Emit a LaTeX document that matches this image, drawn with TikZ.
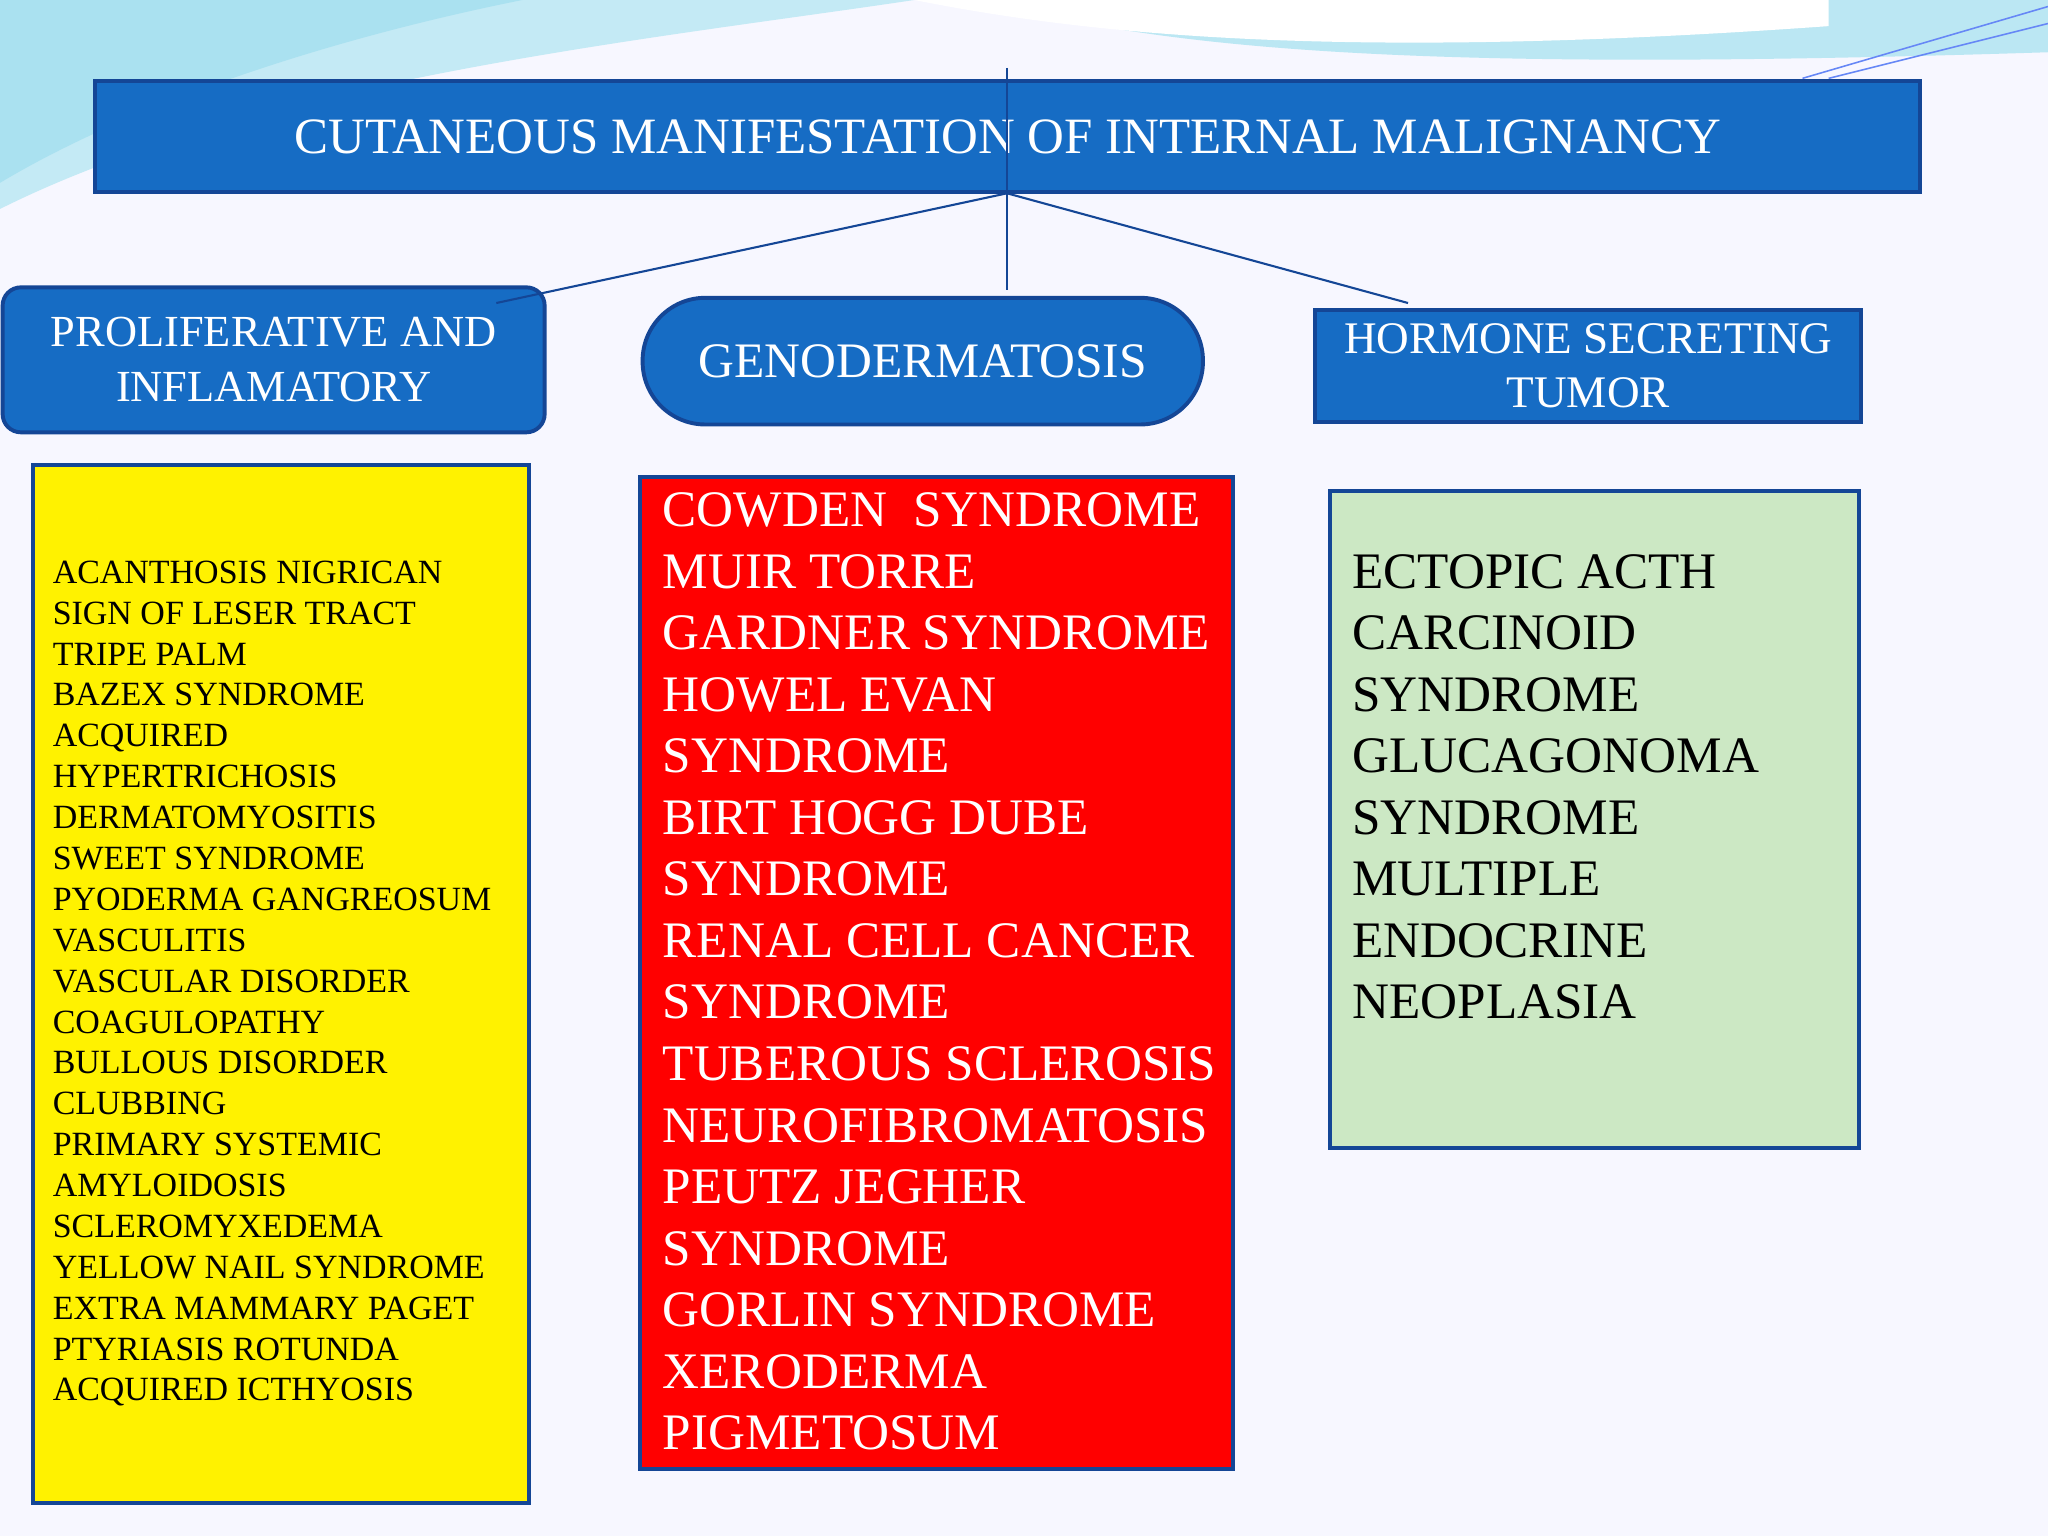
\documentclass[tikz,border=0pt]{standalone}
\usepackage{fontspec}
\setmainfont{Liberation Serif}
\definecolor{bblue}{RGB}{22,108,196}
\definecolor{bedge}{RGB}{20,70,150}
\definecolor{ggreen}{RGB}{204,232,196}
\definecolor{lcyan}{RGB}{170,225,240}
\begin{document}
\begin{tikzpicture}[x=0.5pt,y=-0.5pt,
  hdr/.style={fill=bblue,draw=bedge,line width=1.5pt,text=white,align=center,inner sep=0},
  lst/.style={anchor=north west,align=left,inner sep=0},
  con/.style={draw=bedge,line width=0.8pt}]
\useasboundingbox (0,0) rectangle (1568,1176);
\fill[white!97!blue] (0,0) rectangle (1568,1176);
% decorative top waves
\fill[lcyan!70] (0,0) -- (700,0) .. controls (500,30) and (200,60) .. (0,160) -- cycle;
\fill[lcyan] (0,0) -- (400,0) .. controls (250,30) and (100,80) .. (0,140) -- cycle;
\fill[lcyan!80] (750,0) .. controls (900,40) and (1100,55) .. (1568,40) -- (1568,0) -- cycle;
\fill[white] (700,0) .. controls (850,30) and (1050,45) .. (1400,20) -- (1400,0) -- cycle;
\draw[lcyan!60!blue,line width=0.6pt] (1380,60) -- (1568,5);
\draw[lcyan!60!blue,line width=0.6pt] (1400,60) -- (1568,18);
% title
\node[hdr,minimum width=698.5pt,minimum height=42.5pt,font=\fontsize{19.5}{23}\selectfont] (title) at (771.5,104.5) {CUTANEOUS MANIFESTATION OF INTERNAL MALIGNANCY};
\coordinate (top) at (771,52);
\coordinate (bot) at (771,148);
\draw[con] (top) -- (771,222);
% categories
\node[hdr,rounded corners=7pt,minimum width=207.5pt,minimum height=55.5pt,font=\fontsize{17}{21}\selectfont] (prol) at (209.5,275.5) {PROLIFERATIVE AND\\INFLAMATORY};
\node[hdr,rounded corners=24pt,minimum width=214.5pt,minimum height=48.5pt,font=\fontsize{19}{22}\selectfont] (gen) at (706.5,276.5) {GENODERMATOSIS};
\node[hdr,minimum width=209pt,minimum height=43pt,font=\fontsize{17.3}{21}\selectfont] (horm) at (1216,280) {HORMONE SECRETING\\TUMOR};
\draw[con] (bot) -- (380,232);
\draw[con] (bot) -- (1078,232);
% boxes
\node[draw=bedge,line width=1.5pt,fill=yellow,minimum width=190pt,minimum height=397.5pt,inner sep=0] (ybox) at (215,753.5) {};
\node[draw=bedge,line width=1.5pt,fill=red,minimum width=227pt,minimum height=380pt,inner sep=0] (rbox) at (717,745) {};
\node[draw=bedge,line width=1.5pt,fill=ggreen,minimum width=202.5pt,minimum height=251.5pt,inner sep=0] (gbox) at (1220.5,627.5) {};
\node[lst,font=\fontsize{13}{15.65}\selectfont] (ytext) at (40,429) {ACANTHOSIS NIGRICAN\\SIGN OF LESER TRACT\\TRIPE PALM\\BAZEX SYNDROME\\ACQUIRED\\HYPERTRICHOSIS\\DERMATOMYOSITIS\\SWEET SYNDROME\\PYODERMA GANGREOSUM\\VASCULITIS\\VASCULAR DISORDER\\COAGULOPATHY\\BULLOUS DISORDER\\CLUBBING\\PRIMARY SYSTEMIC\\AMYLOIDOSIS\\SCLEROMYXEDEMA\\YELLOW NAIL SYNDROME\\EXTRA MAMMARY PAGET\\PTYRIASIS ROTUNDA\\ACQUIRED ICTHYOSIS};
\node[lst,text=white,font=\fontsize{19.6}{23.55}\selectfont] (rtext) at (507,377) {COWDEN\ \ SYNDROME\\MUIR TORRE\\GARDNER SYNDROME\\HOWEL EVAN\\SYNDROME\\BIRT HOGG DUBE\\SYNDROME\\RENAL CELL CANCER\\SYNDROME\\TUBEROUS SCLEROSIS\\NEUROFIBROMATOSIS\\PEUTZ JEGHER\\SYNDROME\\GORLIN SYNDROME\\XERODERMA\\PIGMETOSUM};
\node[lst,font=\fontsize{19.6}{23.55}\selectfont] (gtext) at (1035,424) {ECTOPIC ACTH\\CARCINOID\\SYNDROME\\GLUCAGONOMA\\SYNDROME\\MULTIPLE\\ENDOCRINE\\NEOPLASIA};
\end{tikzpicture}
\end{document}
